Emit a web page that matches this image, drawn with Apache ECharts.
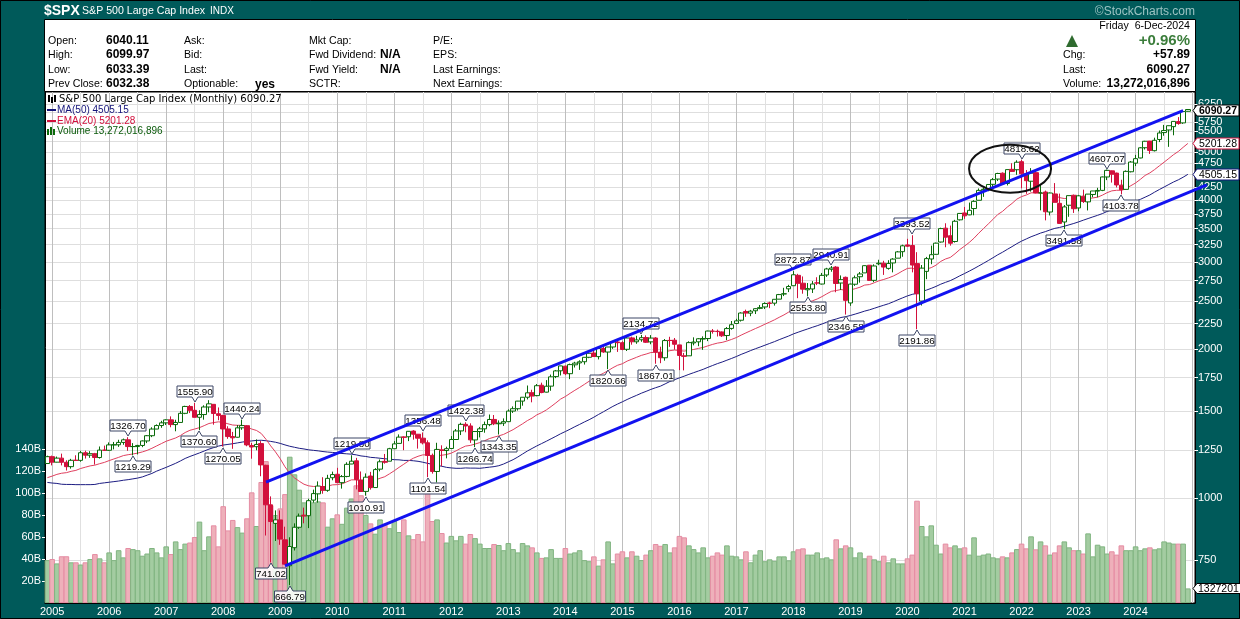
<!DOCTYPE html>
<html><head><meta charset="utf-8">
<style>html,body{margin:0;padding:0;background:#005a5a}#c{width:1240px;height:619px}</style>
<script src="https://cdn.jsdelivr.net/npm/echarts@6/dist/echarts.min.js"></script>
</head><body><div id="c"></div>
<script>
const firstYear = 2005;
const priceTicks = [750,1000,1250,1500,1750,2000,2250,2500,2750,3000,3250,3500,3750,4000,4250,4500,4750,5000,5250,5500,5750,6000,6250];
const priceLabels = [750,1000,1250,1500,1750,2000,2250,2500,2750,3000,3250,3500,3750,4000,4250,4750,5000,5500,5750,6250];
const volumeLabels = [20,40,60,80,100,120,140];

const opens = [1173.8,
1211.9,1181.3,1203.6,1180.6,1156.9,1191.5,1191.3,1234.2,1220.3,1228.8,1207.0,1249.5,
1248.3,1280.1,1280.7,1294.9,1310.6,1270.1,1270.2,1276.7,1303.8,1335.9,1377.9,1400.6,
1418.3,1438.2,1406.8,1420.9,1482.4,1530.6,1503.4,1455.3,1474.0,1526.8,1545.8,1479.6,
1468.0,1378.6,1330.5,1326.4,1386.0,1399.6,1276.7,1269.4,1287.8,1164.2,968.7,888.6,
903.0,823.1,729.6,793.6,872.7,923.3,920.8,990.2,1019.5,1054.9,1036.2,1098.9,
1116.6,1073.9,1105.4,1171.2,1188.6,1087.3,1031.1,1107.5,1049.7,1143.5,1185.7,1186.6,
1257.6,1289.1,1328.6,1329.5,1365.2,1345.2,1320.6,1292.6,1219.1,1131.2,1251.0,1246.9,
1258.9,1312.5,1366.0,1408.5,1398.0,1309.9,1362.3,1379.3,1406.5,1440.9,1412.2,1416.3,
1426.2,1498.1,1514.7,1569.2,1597.6,1631.7,1609.8,1689.4,1635.9,1682.4,1758.7,1806.6,
1845.9,1782.7,1857.7,1874.0,1884.4,1923.9,1962.3,1929.8,2004.1,1971.4,2018.2,2065.8,
2058.9,1996.7,2105.2,2067.6,2087.4,2108.6,2067.0,2104.5,1970.1,1919.7,2080.8,2082.9,
2038.2,1936.9,1937.1,2056.6,2067.2,2093.9,2099.3,2173.0,2171.3,2164.3,2128.7,2200.2,
2251.6,2285.6,2380.1,2362.3,2388.5,2415.6,2431.4,2477.1,2474.4,2521.2,2583.2,2645.1,
2683.7,2816.5,2715.2,2633.4,2643.6,2718.7,2705.0,2821.2,2897.0,2926.3,2717.6,2790.5,
2477.0,2702.3,2798.2,2848.6,2952.3,2751.5,2971.4,2980.3,2909.0,2983.7,3050.7,3143.9,
3244.7,3235.7,2974.3,2498.1,2869.1,3038.8,3105.9,3288.3,3507.4,3386.0,3296.2,3645.9,
3764.6,3731.2,3842.5,3992.8,4192.0,4216.5,4300.7,4406.9,4528.8,4317.2,4610.6,4602.8,
4778.1,4519.6,4363.1,4540.3,4130.6,4149.8,3781.0,4112.4,3936.7,3609.8,3901.8,4087.1,
3853.3,4070.1,3963.3,4102.2,4166.8,4181.0,4450.5,4578.8,4530.6,4284.5,4201.3,4559.4,
4745.2,4861.1,5098.5,5258.0,5029.0,5297.2,5471.1,5537.8,5623.9,5757.7,5723.2,6040.11];

const highs = [1217.3,
1217.8,1212.4,1229.1,1191.9,1199.6,1219.6,1245.2,1245.9,1243.1,1233.3,1270.6,1275.8,
1294.9,1297.6,1310.9,1318.2,1326.7,1290.7,1280.4,1306.7,1340.3,1389.5,1407.9,1431.8,
1441.6,1461.6,1438.9,1498.0,1535.6,1540.6,1555.9,1503.9,1538.7,1576.1,1545.8,1523.6,
1471.8,1396.0,1359.7,1404.0,1440.24,1404.1,1292.2,1313.2,1303.0,1167.0,1007.5,943.9,
943.9,875.0,833.0,888.7,930.2,956.2,996.7,1039.5,1080.2,1101.4,1113.7,1130.4,
1150.5,1112.4,1180.7,1219.8,1205.1,1131.2,1121.0,1129.2,1148.9,1196.1,1227.1,1262.6,
1302.7,1344.1,1332.3,1364.6,1370.6,1345.2,1356.48,1307.4,1229.3,1292.7,1277.6,1269.4,
1333.5,1378.0,1419.2,1422.38,1415.3,1363.5,1391.7,1426.7,1474.5,1471.0,1434.3,1448.0,
1509.9,1530.9,1570.3,1597.6,1687.2,1654.2,1698.8,1709.7,1729.9,1775.2,1813.6,1849.4,
1850.8,1867.9,1884.0,1897.3,1924.0,1968.2,1991.4,2005.0,2019.3,2018.2,2075.8,2093.6,
2072.4,2119.6,2117.5,2125.9,2134.72,2129.9,2132.8,2112.7,2021.0,2094.3,2116.5,2104.3,
2038.2,1963.0,2072.2,2111.0,2103.5,2120.6,2177.1,2193.8,2187.9,2169.6,2214.1,2277.5,
2301.0,2371.5,2401.1,2398.2,2418.7,2453.8,2484.0,2490.9,2519.4,2583.0,2657.7,2695.0,
2872.87,2836.0,2801.9,2717.5,2742.2,2791.5,2848.0,2916.5,2940.91,2939.9,2815.2,2800.2,
2709.0,2813.5,2860.3,2949.5,2954.1,2964.2,3028.0,3013.6,3022.0,3050.1,3154.3,3247.9,
3337.8,3393.52,3136.7,2954.9,3068.7,3233.1,3280.0,3514.8,3588.1,3549.9,3646.0,3760.2,
3870.9,3950.4,3994.4,4218.8,4238.0,4302.4,4430.0,4537.4,4545.9,4608.1,4743.8,4808.9,
4818.62,4595.3,4637.3,4593.5,4307.7,4177.5,4140.2,4325.3,4119.3,3905.4,4080.1,4101.0,
4094.2,4195.4,4110.8,4170.1,4231.1,4458.5,4607.07,4584.6,4541.3,4393.6,4587.6,4793.3,
4931.1,5111.1,5264.9,5264.0,5341.9,5523.6,5669.7,5651.6,5767.4,5878.5,6044.2,6099.97];

const lows = [1173.8,
1163.8,1180.0,1163.7,1136.2,1146.2,1188.3,1183.6,1201.1,1205.4,1168.2,1201.1,1246.6,
1245.7,1253.6,1268.4,1280.7,1245.3,1219.29,1224.5,1266.5,1290.9,1327.1,1377.8,1385.9,
1403.9,1389.4,1363.8,1420.9,1476.7,1484.2,1454.3,1370.6,1439.3,1489.6,1406.1,1435.6,
1270.05,1316.8,1257.0,1324.4,1373.1,1272.0,1200.4,1248.6,1106.4,839.8,741.02,818.7,
804.3,734.5,666.79,783.3,866.1,888.9,869.3,978.5,978.5,1020.0,1029.4,1085.9,
1071.6,1044.5,1101.0,1170.7,1040.8,1028.3,1010.91,1039.7,1049.7,1131.9,1173.0,1186.6,
1257.6,1289.1,1249.1,1302.7,1311.8,1258.1,1282.9,1101.54,1120.0,1074.77,1158.7,1202.4,
1258.9,1312.5,1340.0,1357.4,1292.0,1266.74,1325.4,1354.6,1396.6,1403.3,1343.35,1398.1,
1426.2,1485.0,1501.5,1536.0,1581.3,1560.3,1604.6,1627.5,1633.4,1646.5,1746.2,1768.0,
1770.5,1737.9,1834.4,1814.4,1859.8,1916.0,1930.7,1904.8,1964.0,1820.66,2001.0,1972.6,
1988.1,1980.9,2039.7,2048.4,2067.9,2056.3,2044.0,1867.01,1871.9,1893.7,2019.4,1993.3,
1812.3,1810.1,1937.1,2033.8,2025.9,1991.7,2074.0,2147.6,2119.1,2114.7,2083.8,2187.4,
2245.1,2271.7,2322.3,2329.0,2352.7,2405.7,2407.7,2417.4,2446.6,2520.4,2557.4,2605.5,
2682.4,2532.7,2585.9,2553.8,2594.6,2692.0,2699.0,2796.3,2864.1,2603.5,2631.1,2346.58,
2444.0,2681.8,2722.3,2848.6,2750.5,2728.8,2952.2,2822.1,2891.9,2855.9,3050.7,3070.3,
3214.6,2855.8,2191.86,2447.5,2766.6,2965.7,3101.2,3280.2,3209.5,3233.9,3279.7,3633.4,
3662.7,3725.6,3723.3,3992.8,4056.9,4164.4,4233.1,4367.7,4305.9,4278.9,4560.0,4495.1,
4222.6,4114.7,4157.9,4124.3,3810.3,3636.9,3721.6,3954.5,3584.1,3491.58,3698.2,3764.5,
3794.3,3943.1,3808.9,4049.4,4048.3,4166.2,4385.1,4335.3,4238.6,4103.78,4197.7,4546.5,
4682.1,4853.6,5056.8,4953.6,5011.1,5234.3,5391.0,5119.3,5402.6,5674.0,5696.5,6033.39];

const closes = [1211.9,
1181.3,1203.6,1180.6,1156.9,1191.5,1191.3,1234.2,1220.3,1228.8,1207.0,1249.5,1248.3,
1280.1,1280.7,1294.9,1310.6,1270.1,1270.2,1276.7,1303.8,1335.9,1377.9,1400.6,1418.3,
1438.2,1406.8,1420.9,1482.4,1530.6,1503.4,1455.3,1474.0,1526.8,1549.4,1481.1,1468.4,
1378.6,1330.6,1322.7,1385.6,1400.4,1280.0,1267.4,1282.8,1166.4,968.8,896.2,903.3,
825.9,735.1,797.9,872.8,919.1,919.3,987.5,1020.6,1057.1,1036.2,1095.6,1115.1,
1073.9,1104.5,1169.4,1186.7,1089.4,1030.7,1101.6,1049.3,1141.2,1183.3,1180.6,1257.6,
1286.1,1327.2,1325.8,1363.6,1345.2,1320.6,1292.3,1218.9,1131.4,1253.3,1247.0,1257.6,
1312.4,1365.7,1408.5,1397.9,1310.3,1362.2,1379.3,1406.6,1440.7,1412.2,1416.2,1426.2,
1498.1,1514.7,1569.2,1597.6,1630.7,1606.3,1685.7,1633.0,1681.6,1756.5,1805.8,1848.4,
1782.6,1859.5,1872.3,1884.0,1923.6,1960.2,1930.7,2003.4,1972.3,2018.1,2067.6,2058.9,
1995.0,2104.5,2067.9,2085.5,2107.4,2063.1,2103.8,1972.2,1920.0,2079.4,2080.4,2043.9,
1940.2,1932.2,2059.7,2065.3,2097.0,2098.9,2173.6,2171.0,2168.3,2126.2,2198.8,2238.8,
2278.9,2363.6,2362.7,2384.2,2411.8,2423.4,2470.3,2471.7,2519.4,2575.3,2584.8,2673.6,
2823.8,2713.8,2640.9,2648.1,2705.3,2718.4,2816.3,2901.5,2914.0,2711.7,2760.2,2506.9,
2704.1,2784.5,2834.4,2945.8,2750.5,2941.8,2980.4,2926.5,2976.7,3037.6,3141.0,3230.8,
3225.5,2954.2,2584.6,2912.4,3044.3,3100.3,3271.1,3500.3,3363.0,3270.0,3621.6,3756.1,
3714.2,3811.2,3972.9,4181.2,4204.1,4297.5,4395.3,4522.7,4307.5,4605.4,4567.0,4766.2,
4515.6,4373.9,4530.4,4131.9,4132.2,3785.4,4130.3,3955.0,3585.6,3872.0,4080.1,3839.5,
4076.6,3970.2,4109.3,4169.5,4179.8,4450.4,4589.0,4507.7,4288.1,4193.8,4567.8,4769.8,
4845.7,5096.3,5254.4,5035.7,5277.5,5460.5,5522.3,5648.4,5762.5,5705.5,6032.4,6090.27];

const ma50 = [1075,
1072,1070,1066,1065,1065,1064,1064,1064,1064,1065,1070,1073,
1076,1079,1082,1086,1089,1093,1097,1103,1112,1121,1133,1143,
1153,1164,1175,1188,1202,1213,1223,1233,1244,1255,1264,1273,
1279,1283,1287,1292,1297,1301,1304,1307,1308,1305,1301,1296,
1289,1280,1272,1266,1260,1256,1251,1248,1245,1241,1238,1236,
1233,1230,1228,1226,1222,1216,1213,1208,1206,1203,1200,1198,
1195,1194,1191,1191,1189,1186,1181,1175,1169,1164,1159,1153,
1150,1148,1148,1150,1149,1149,1148,1151,1154,1157,1162,1171,
1183,1195,1210,1227,1244,1259,1274,1288,1302,1317,1332,1348,
1362,1377,1393,1408,1424,1439,1456,1475,1493,1512,1531,1548,
1564,1581,1597,1612,1628,1642,1657,1670,1682,1700,1719,1734,
1748,1762,1777,1791,1805,1819,1836,1852,1868,1882,1898,1914,
1931,1950,1967,1985,2002,2018,2035,2052,2069,2088,2106,2124,
2145,2162,2179,2195,2212,2228,2246,2265,2285,2299,2315,2324,
2337,2352,2368,2385,2399,2416,2434,2451,2468,2490,2514,2537,
2560,2578,2591,2611,2630,2651,2675,2703,2726,2748,2777,2810,
2840,2872,2906,2942,2979,3017,3057,3099,3136,3178,3219,3263,
3302,3336,3370,3398,3428,3451,3479,3504,3519,3539,3562,3585,
3611,3640,3668,3696,3723,3753,3790,3821,3847,3873,3904,3939,
3973,4010,4051,4093,4147,4198,4247,4298,4348,4392,4445,4505.15];

const ema20 = [1099,
1107,1116,1122,1125,1132,1137,1147,1154,1161,1165,1173,1180,
1190,1199,1208,1218,1223,1227,1232,1239,1248,1260,1274,1288,
1302,1312,1322,1337,1356,1370,1378,1387,1400,1414,1420,1425,
1421,1412,1404,1402,1402,1390,1378,1369,1350,1314,1274,1239,
1200,1156,1122,1098,1081,1066,1058,1055,1055,1053,1057,1063,
1064,1068,1078,1088,1088,1083,1085,1081,1087,1096,1104,1119,
1135,1153,1170,1188,1203,1214,1222,1222,1213,1217,1220,1224,
1232,1245,1260,1273,1277,1285,1294,1305,1318,1327,1335,1344,
1359,1374,1393,1412,1433,1450,1472,1487,1506,1530,1556,1584,
1603,1627,1650,1672,1696,1721,1741,1766,1786,1808,1833,1854,
1867,1890,1907,1924,1941,1953,1967,1968,1963,1974,1984,1990,
1985,1980,1988,1995,2005,2014,2029,2043,2055,2062,2075,2091,
2109,2133,2155,2177,2199,2220,2244,2266,2290,2317,2343,2374,
2417,2445,2464,2481,2502,2523,2551,2584,2615,2624,2637,2625,
2632,2647,2665,2692,2698,2721,2746,2763,2783,2807,2839,2876,
2909,2913,2882,2885,2900,2919,2953,3005,3039,3061,3114,3175,
3226,3282,3348,3427,3501,3577,3655,3738,3792,3869,3935,4014,
4062,4092,4134,4134,4134,4101,4104,4090,4042,4026,4031,4013,
4019,4014,4023,4037,4051,4089,4137,4172,4183,4184,4221,4273,
4328,4401,4482,4535,4606,4687,4767,4851,4938,5011,5108,5201.28];

const volumes = [39,
40,36,42.5,42.5,37,37,35,37,40,44.5,40.6,37,
46,39,48,41.5,50,49,48,43,45,50,46,41.5,
51.5,44.5,56,49,54,55,60,74,48,60.6,70.6,51.5,
88,66,75.5,69,64,77,100.6,70,110,129,89,80,
86,99,133,117,103,91.5,93,91.5,92.4,91.5,69.4,77,
80.6,72,86.7,95,107,98,80,72.4,63,76,72,68,
75,64.5,76,61.5,58,62.7,56,100,74.5,76,63.6,55,
61,57,61,54,62.7,59,54,50,50,53.6,52.7,48,
54.5,49,46,54.5,52.4,50.6,46,41,41.5,49,41,41,
50,45,46,48,39,38,42.4,34,39.7,56,36,45,
47,41.5,47,43,39,44,48,53.6,52,53.6,46,50.6,
61,59.7,52.4,49,46,50.6,41.5,43,46,44,52.4,43,
42.4,39.7,47,37,44,48,38,39.7,38.4,42.4,42.4,38.8,
47,48.8,49.7,44,44,46,40.6,41.5,39.7,57.9,49.7,52.4,
50.6,41.5,46,40.6,43,39.7,38,43,37,40.6,36,36,
40.6,44,93,70,60.6,70.6,53,45,54,50.6,52.4,49.7,
50.6,44,59.7,43,44,45,41.5,40.6,42.4,41.5,46,49,
54,49.7,60.6,48.8,56,52.4,44,46,52.4,56,50.6,48,
48,45,63.3,42.4,53,51.5,45,47,44,52.4,48,48,
51.5,48,49.7,50.6,48.8,49.7,56,55,54,54,54,13.27];

// pivots: [bar index, price, 1 = above / -1 = below]
const pivotIdx   = [17,31,41,64,79,88,125,157,165,182,205,223,18,32,37,47,51,67,80,90,95,118,128,160,168,183,214,226];
const pivotPrice = [1326.70,1555.90,1440.24,1219.80,1356.48,1422.38,2134.72,2872.87,2940.91,3393.52,4818.62,4607.07,
                    1219.29,1370.60,1270.05,741.02,666.79,1010.91,1101.54,1266.74,1343.35,1820.66,1867.01,2553.80,2346.58,2191.86,3491.58,4103.78];
const pivotSide  = [1,1,1,1,1,1,1,1,1,1,1,1,-1,-1,-1,-1,-1,-1,-1,-1,-1,-1,-1,-1,-1,-1,-1,-1];

const channelUpper = [[46,1076],[239,6058]];
const channelLower = [[50,729],[244,4288]];
const ellipseAt = [[203,4626]];

const lastTags = [[6090.27,'#000','#000','bold 10.5px',"6090.27"],[5201.28,'#d2103c','#000','10.5px',"5201.28"],[4505.15,'#14147a','#000','10.5px',"4505.15"]];

const categories = ['2004-12'];
for (let y = firstYear; y <= 2024; y++) for (let m = 1; m <= 12; m++) categories.push(y + '-' + String(m).padStart(2,'0'));
categories.push('');
const categoriesWide = categories.concat(['','','']);

const TEAL = '#005a5a', FONT = '"Liberation Sans", Arial, sans-serif';
const GREEN = '#0a6a0a', RED = '#d2103c';
const PRICE_MIN = 613.6, PRICE_MAX = 6607;

function txt(x, y, text, o) {
  o = o || {};
  return {type:'text', x, y, z:50, silent:true, style:{text, fill:o.fill||'#000',
    font:(o.font||'10.6px') + ' ' + (o.family||FONT), textAlign:o.align||'left', textVerticalAlign:'middle'}};
}
const rows = [41,55,70,84];
const graphics = [
  {type:'rect', z:1, silent:true, shape:{x:0.5,y:0.5,width:1239,height:618}, style:{fill:'none',stroke:'#000',lineWidth:1}},
  {type:'rect', z:40, silent:true, shape:{x:44.5,y:19.5,width:1151,height:72}, style:{fill:'#fff',stroke:'#000',lineWidth:1}},
  txt(44,11,'$SPX',{font:'bold 14px',fill:'#fff'}),
  txt(82,11,'S&P 500 Large Cap Index',{font:'10.6px',fill:'#fff'}),
  txt(210,11,'INDX',{font:'10px',fill:'#fff'}),
  txt(1195,12,'©StockCharts.com',{font:'12px',fill:'#9cc3c3',align:'right'}),
  txt(48,rows[0],'Open:'),txt(48,rows[1],'High:'),txt(48,rows[2],'Low:'),txt(48,rows[3],'Prev Close:'),
  txt(106,rows[0],'6040.11',{font:'bold 12px'}),txt(106,rows[1],'6099.97',{font:'bold 12px'}),
  txt(106,rows[2],'6033.39',{font:'bold 12px'}),txt(106,rows[3],'6032.38',{font:'bold 12px'}),
  txt(184,rows[0],'Ask:'),txt(184,rows[1],'Bid:'),txt(184,rows[2],'Last:'),txt(184,rows[3],'Optionable:'),
  txt(255,rows[3]+1,'yes',{font:'bold 12px'}),
  txt(309,rows[0],'Mkt Cap:'),txt(309,rows[1],'Fwd Dividend:'),txt(309,rows[2],'Fwd Yield:'),txt(309,rows[3],'SCTR:'),
  txt(380,rows[1],'N/A',{font:'bold 12px'}),txt(380,rows[2],'N/A',{font:'bold 12px'}),
  txt(433,rows[0],'P/E:'),txt(433,rows[1],'EPS:'),txt(433,rows[2],'Last Earnings:'),txt(433,rows[3],'Next Earnings:'),
  txt(1190,26,'Friday  6-Dec-2024',{align:'right'}),
  {type:'polygon', z:50, silent:true, shape:{points:[[1066,47],[1078,47],[1072,35]]}, style:{fill:'#2f6b2f'}},
  txt(1190,41,'+0.96%',{font:'bold 15px',fill:'#3b7d3b',align:'right'}),
  txt(1063,55,'Chg:'),txt(1190,55,'+57.89',{font:'bold 12px',align:'right'}),
  txt(1063,70,'Last:'),txt(1190,70,'6090.27',{font:'bold 12px',align:'right'}),
  txt(1063,84,'Volume:'),txt(1190,84,'13,272,016,896',{font:'bold 12px',align:'right'}),
  // legend
  {type:'rect',z:50,silent:true,shape:{x:48,y:95,width:2,height:7},style:{fill:'#000'}},
  {type:'rect',z:50,silent:true,shape:{x:51,y:97,width:2,height:6},style:{fill:'#000'}},
  {type:'rect',z:50,silent:true,shape:{x:54,y:95,width:2,height:7},style:{fill:'#000'}},
  txt(59,99,'S&P 500 Large Cap Index (Monthly) 6090.27',{font:'10px',family:'"DejaVu Sans"'}),
  {type:'rect',z:50,silent:true,shape:{x:47,y:109,width:9,height:2},style:{fill:'#14147a'}},
  txt(57,110,'MA(50) 4505.15',{font:'10px',fill:'#14147a'}),
  {type:'rect',z:50,silent:true,shape:{x:47,y:120,width:9,height:2},style:{fill:'#d2103c'}},
  txt(57,121,'EMA(20) 5201.28',{font:'10px',fill:'#d2103c'}),
  {type:'rect',z:50,silent:true,shape:{x:47,y:129,width:2,height:6},style:{fill:GREEN}},
  {type:'rect',z:50,silent:true,shape:{x:50,y:127,width:2,height:8},style:{fill:GREEN}},
  {type:'rect',z:50,silent:true,shape:{x:53,y:129,width:2,height:6},style:{fill:GREEN}},
  txt(57,131,'Volume 13,272,016,896',{font:'10px',fill:'#0a5a0a'})
];

const gridTop = 92, gridBottom = 16, gridLeft = 45, bandW = 1150/242;

const option = {
  animation:false,
  backgroundColor:TEAL,
  textStyle:{fontFamily:FONT},
  graphic:{elements:graphics},
  grid:[
    {left:gridLeft, width:1150, top:gridTop, bottom:gridBottom, show:true, backgroundColor:'#fff', borderColor:'#000', borderWidth:1, containLabel:false},
    {left:gridLeft, width:bandW*245, top:gridTop, bottom:gridBottom, show:false}
  ],
  xAxis:[
    {type:'category', gridIndex:0, data:categories, boundaryGap:true,
     axisLine:{lineStyle:{color:'#000'}}, axisTick:{show:false},
     axisLabel:{color:'#fff', fontSize:11, margin:3, fontFamily:FONT,
       interval:(i)=>i%12===1, formatter:(v)=>v.slice(0,4)},
     splitLine:{show:true, alignWithLabel:true, interval:(i)=>i%6===1,
       lineStyle:{color:['#bebebe','#e0e0e0'],width:1}}},
    {type:'category', gridIndex:1, data:categoriesWide, boundaryGap:true, show:false}
  ],
  yAxis:[
    {type:'log', gridIndex:0, position:'right', logBase:10, min:PRICE_MIN, max:PRICE_MAX,
     axisLine:{show:true,lineStyle:{color:'#000'}},
     axisTick:{show:true,length:3,inside:false,customValues:priceTicks,lineStyle:{color:'#fff'}},
     axisLabel:{color:'#fff',fontSize:11,margin:3,customValues:priceLabels,formatter:(v)=>String(Math.round(v)),fontFamily:FONT},
     splitLine:{show:true,lineStyle:{color:'#dedede',width:1}}, minorTick:{show:false}, minorSplitLine:{show:false}},
    {type:'value', gridIndex:0, position:'left', min:0, max:(603-92)/1.1,
     axisLine:{show:true,lineStyle:{color:'#000'}},
     axisTick:{show:true,length:3,customValues:volumeLabels,lineStyle:{color:'#fff'}},
     axisLabel:{color:'#fff',fontSize:11,margin:4,customValues:volumeLabels,formatter:(v)=>v+'B',fontFamily:FONT},
     splitLine:{show:false}},
    {type:'log', gridIndex:1, logBase:10, min:PRICE_MIN, max:PRICE_MAX, show:false, splitLine:{show:false}}
  ],
  series:[
    {name:'Volume', type:'bar', xAxisIndex:0, yAxisIndex:1, barWidth:5.6, z:2, silent:true,
     data:volumes.map((v,i)=>{
       const down = i>0 && closes[i]<closes[i-1];
       return {value:v, itemStyle:{color:down?'#eeb0ba':'#a3cca1', borderColor:down?'#e58ca3':'#80b480', borderWidth:1}};
     })},
    {name:'MA(50)', type:'line', xAxisIndex:0, yAxisIndex:0, data:ma50, showSymbol:false, z:3, silent:true,
     lineStyle:{color:'#1c1c82',width:1}},
    {name:'EMA(20)', type:'line', xAxisIndex:0, yAxisIndex:0, data:ema20, showSymbol:false, z:3, silent:true,
     lineStyle:{color:'#e0405f',width:1}},
    {name:'$SPX', type:'candlestick', xAxisIndex:0, yAxisIndex:0, barWidth:5, z:4, silent:true,
     itemStyle:{color:'#fff',color0:RED,borderColor:GREEN,borderColor0:RED,borderWidth:1},
     data:closes.map((c,i)=>[opens[i],c,lows[i],highs[i]])},
    {name:'Pivots', type:'custom', xAxisIndex:0, yAxisIndex:0, z:5, silent:true, clip:false,
     data:pivotIdx.map((d,k)=>[d,pivotPrice[k]]),
     renderItem:(params,api)=>{
       const k = params.dataIndex, s = pivotSide[k];
       const p = api.coord([pivotIdx[k],pivotPrice[k]]);
       const label = pivotPrice[k].toFixed(2);
       const hw = label.length*5/2 + 0.5, x = Math.round(p[0]), tip = Math.round(p[1]) - s;
       const near = tip - s*5, far = near - s*11;
       return {type:'group',children:[
         {type:'polygon',shape:{points:[[x-hw,far],[x+hw,far],[x+hw,near],[x+3,near],[x,tip],[x-3,near],[x-hw,near]]},
          style:{fill:'rgba(255,255,255,0.88)',stroke:'#3c4666',lineWidth:1}},
         {type:'text',style:{text:label,x:x,y:(near+far)/2+0.5,fill:'#000',font:'9.8px '+FONT,align:'center',verticalAlign:'middle'}}
       ]};
     }},
    {name:'Channel upper', type:'line', xAxisIndex:1, yAxisIndex:2, data:channelUpper, showSymbol:false, clip:false, z:6, silent:true,
     lineStyle:{color:'#1212f0',width:3,cap:'butt'}},
    {name:'Channel lower', type:'line', xAxisIndex:1, yAxisIndex:2, data:channelLower, showSymbol:false, clip:false, z:6, silent:true,
     lineStyle:{color:'#1212f0',width:3,cap:'butt'}},
    {name:'Circle', type:'custom', xAxisIndex:0, yAxisIndex:0, z:7, silent:true, clip:false, data:ellipseAt,
     renderItem:(params,api)=>{
       const p = api.coord(ellipseAt[0]);
       return {type:'ellipse',shape:{cx:p[0]-2,cy:p[1],rx:41,ry:24},style:{fill:'none',stroke:'#111',lineWidth:2}};
     }},
    {name:'Tags', type:'custom', xAxisIndex:0, yAxisIndex:0, z:8, silent:true, clip:false,
     data:lastTags.map((t,i)=>[240,t[0]]),
     renderItem:(params,api)=>{
       const t = lastTags[params.dataIndex];
       const y = Math.round(api.coord([240,t[0]])[1]) + 0.5;
       const r = params.coordSys.x + params.coordSys.width;
       return {type:'group',children:[
         {type:'polygon',shape:{points:[[r-2,y],[r+2,y-5.5],[r+44,y-5.5],[r+44,y+5.5],[r+2,y+5.5]]},
          style:{fill:'#fff',stroke:t[1],lineWidth:1}},
         {type:'text',style:{text:t[4],x:r+23,y:y+0.5,fill:t[2],font:t[3]+' '+FONT,align:'center',verticalAlign:'middle'}}
       ]};
     }},
    {name:'VolumeTag', type:'custom', xAxisIndex:0, yAxisIndex:1, z:8, silent:true, clip:false,
     data:[[240,volumes[240]]],
     renderItem:(params,api)=>{
       const y = Math.round(api.coord([240,volumes[240]])[1]) + 0.5;
       const r = params.coordSys.x + params.coordSys.width;
       return {type:'group',children:[
         {type:'polygon',shape:{points:[[r-2,y],[r+2,y-5],[r+46,y-5],[r+46,y+5],[r+2,y+5]]},
          style:{fill:'#fff',stroke:'#000',lineWidth:1}},
         {type:'text',style:{text:'1327201',x:r+3,y:y+0.5,fill:'#000',font:'10.5px '+FONT,align:'left',verticalAlign:'middle'}}
       ]};
     }}
  ]
};
[opens,highs,lows,closes,ma50,ema20,volumes].forEach((a,i)=>{ if(a.length!==241) console.error('len',i,a.length); });
const chart = echarts.init(document.getElementById('c'),null,{renderer:'canvas',width:1240,height:619});
chart.setOption(option);
</script></body></html>
